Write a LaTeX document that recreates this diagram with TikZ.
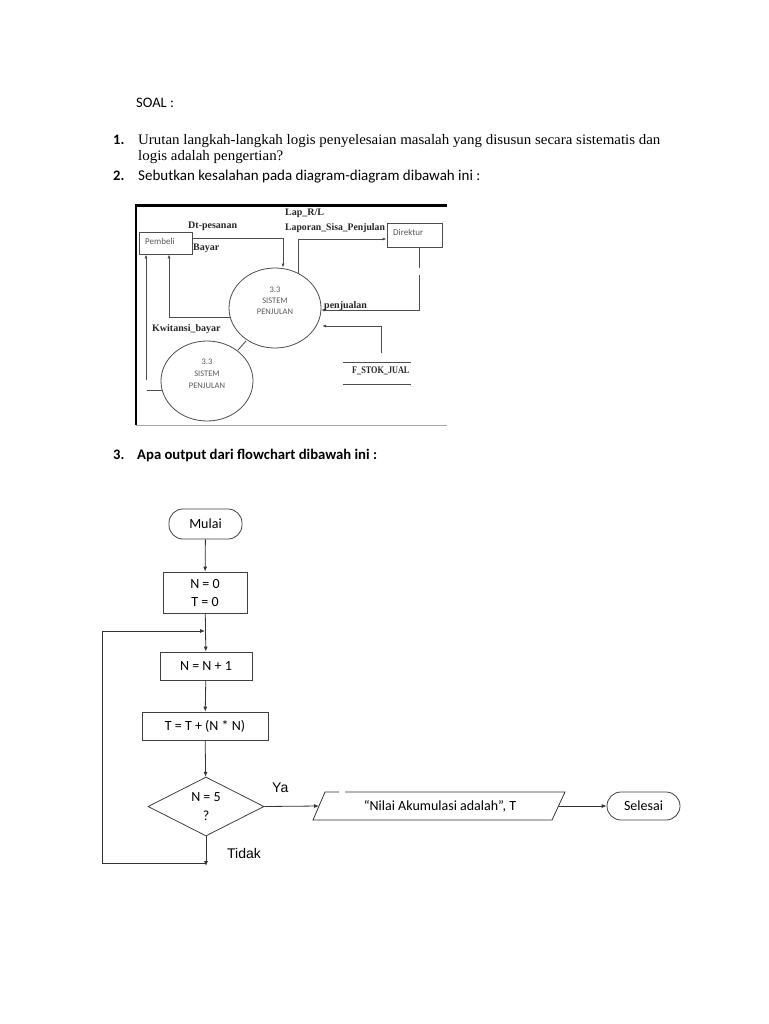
\documentclass[tikz,border=0pt]{standalone}
\usepackage{fontspec}
\setmainfont{Carlito}
\newfontfamily\serifq{Liberation Serif}
\newfontfamily\arialf{Liberation Sans}
\usetikzlibrary{shapes.geometric,arrows.meta,calc}
\begin{document}
\begin{tikzpicture}[x=1pt,y=-1pt,
  txt/.style={anchor=base west,inner sep=0pt,font=\fontsize{15}{18}\selectfont},
  numb/.style={anchor=base west,inner sep=0pt,font=\bfseries\fontsize{14.5}{17}\selectfont},
  sq/.style={anchor=base west,inner sep=0pt,font=\serifq\fontsize{14.5}{17}\selectfont},
  dfdlbl/.style={anchor=base west,inner sep=0pt,font=\serifq\bfseries\fontsize{10}{12}\selectfont,text=black!85},
  dfdline/.style={draw=black!70,line width=0.8pt},
  dfdarr/.style={dfdline,-{Latex[length=4pt,width=3pt]}},
  dfdnode/.style={font=\fontsize{9}{10}\selectfont,text=black!65,align=center,inner sep=0pt},
  fcbox/.style={draw=black!75,line width=0.8pt,fill=white,font=\fontsize{14}{17}\selectfont,align=center,inner sep=0pt},
  fcline/.style={draw=black!80,line width=0.8pt},
  fcarr/.style={fcline,-{Latex[length=5pt,width=4pt]}},
  fclbl/.style={inner sep=0pt,font=\arialf\fontsize{14}{17}\selectfont}
]
\useasboundingbox (0,0) rectangle (768,1024);
\fill[white] (0,0) rectangle (768,1024);

% ---------- header text ----------
\node[txt,font=\fontsize{14.5}{17}\selectfont] (soal) at (136,108) {SOAL :};
\node[numb] (n1) at (113,145) {1.};
\node[sq] (q1a) at (138,145) {\scalebox{1.03}[1]{Urutan langkah-langkah logis penyelesaian masalah yang disusun secara sistematis dan}};
\node[sq] (q1b) at (138,161) {\scalebox{1.03}[1]{logis adalah pengertian?}};
\node[numb] (n2) at (113,181) {2.};
\node[txt] (q2) at (138,181) {Sebutkan kesalahan pada diagram-diagram dibawah ini :};
\node[numb] (n3) at (113,459) {3.};
\node[txt,font=\bfseries\fontsize{14.7}{17}\selectfont] (q3) at (137,459) {Apa output dari flowchart dibawah ini :};

% ---------- DFD picture ----------
\draw[black,line width=2.2pt] (135,205.5) -- (447,205.5);
\draw[black,line width=1.2pt] (136,205) -- (136,425);
\draw[black!35,line width=0.8pt] (136,425) -- (447,425);

\node[draw=black!70,line width=0.8pt,minimum width=53pt,minimum height=22pt,inner sep=0pt] (pembeli) at (165.5,243) {};
\node[dfdnode,anchor=west] (pembelit) at (145,241) {Pembeli};
\node[draw=black!70,line width=0.8pt,minimum width=55pt,minimum height=24pt,inner sep=0pt] (direktur) at (414.5,235) {};
\node[dfdnode,anchor=west] (direkturt) at (393,232) {Direktur};

\node[draw=black!70,line width=0.8pt,ellipse,minimum width=92pt,minimum height=80pt,inner sep=0pt] (sys1) at (275,308) {};
\node[dfdnode,font=\fontsize{8.5}{10}\selectfont] (sys1t) at (275,301) {3.3\\[1pt]SISTEM\\[1pt]PENJULAN};
\node[draw=black!70,line width=0.8pt,ellipse,minimum width=92pt,minimum height=80pt,inner sep=0pt] (sys2) at (207,381) {};
\node[dfdnode,font=\fontsize{8.5}{10}\selectfont] (sys2t) at (207,374) {3.3\\[2pt]SISTEM\\[2pt]PENJULAN};

% F_STOK_JUAL store
\coordinate (st1a) at (343,362);
\coordinate (st1b) at (411,362);
\coordinate (st2a) at (343,384);
\coordinate (st2b) at (411,384);
\draw[dfdline] (st1a) -- (st1b);
\draw[dfdline] (st2a) -- (st2b);
\node[dfdlbl] (stok) at (352,373) {\scalebox{0.82}[1]{F\_STOK\_JUAL}};

% flows
\coordinate (dtA) at (283,238);
\draw[dfdarr] (pembeli.east |- dtA) -- (dtA) -- (sys1.north -| dtA);
\node[dfdlbl] (ldt) at (188,229) {Dt-pesanan};
\node[dfdlbl] (lbayar) at (193,250) {Bayar};

\coordinate (lapA) at (298,239);
\draw[dfdarr] (298,273) -- (lapA) -- (direktur.west |- lapA);
\node[dfdlbl] (llap1) at (285,216) {Lap\_R/L};
\node[dfdlbl] (llap2) at (285,231) {\scalebox{0.97}[1]{Laporan\_Sisa\_Penjulan}};

\coordinate (pjA) at (419,310);
\draw[dfdline] (direktur.south -| pjA) -- (419,268);
\draw[dfdarr] (419,275) -- (pjA) -- (321,310);
\node[dfdlbl] (lpj) at (324,308) {penjualan};

\coordinate (skA) at (381,326);
\draw[dfdarr] (381,353) -- (skA) -- (322,326);

\coordinate (kwA) at (169,317);
\draw[dfdarr] (230,317) -- (kwA) -- (pembeli.south -| kwA);
\node[dfdlbl] (lkw) at (152,331) {Kwitansi\_bayar};

\coordinate (lfA) at (146,380);
\draw[dfdarr] (lfA) -- (pembeli.south -| lfA);
\draw[dfdline] (147,390) -- (161.5,390);
\draw[dfdline] (238,350) -- (246,341);

% ---------- flowchart ----------
\node[fcbox,rounded corners=14pt,minimum width=73pt,minimum height=30pt] (mulai) at (205.5,524) {Mulai};
\node[fcbox,minimum width=84pt,minimum height=41pt] (init) at (205,592.5) {N = 0\\[1pt]T = 0};
\node[fcbox,minimum width=92pt,minimum height=28pt] (inc) at (206,666) {N = N + 1};
\node[fcbox,minimum width=126pt,minimum height=28pt] (sum) at (205,726) {T = T + (N * N)};
\node[fcbox,diamond,aspect=2,minimum width=116pt,minimum height=59pt] (dec) at (206,806.5) {};
\node[inner sep=0pt,font=\fontsize{14}{17}\selectfont,align=center] (dect) at (206,807) {N = 5\\[2pt]?};

% parallelogram (output)
\coordinate (pTL) at (325,792);
\coordinate (pTR) at (565,792);
\coordinate (pBR) at (552,820);
\coordinate (pBL) at (313,820);
\coordinate (pL) at (319,806);
\coordinate (pR) at (558.5,806);
\draw[fcline] (339,792) -- (pTL) -- (pBL) -- (pBR) -- (pTR) -- (345,792);
\node[inner sep=0pt,font=\fontsize{14}{17}\selectfont] (outt) at (440,806) {“Nilai Akumulasi adalah”, T};
\node[fcbox,rounded corners=14pt,minimum width=73pt,minimum height=28pt] (selesai) at (643.5,806) {Selesai};

\draw[fcarr] (mulai) -- (init);
\draw[fcarr] (init) -- (inc);
\draw[fcarr] (inc) -- (sum);
\draw[fcarr] (sum) -- (dec);
\draw[fcarr] (dec.east) -- (pL);
\draw[fcarr] (pR) -- (selesai.west);
\coordinate (bot) at (206,866);
\coordinate (loopB) at (102,863);
\coordinate (loopT) at (102,631);
\draw[fcarr] (dec.south) -- (bot);
\draw[fcarr] (206,863) -- (loopB) -- (loopT) -- (205,631);
\node[fclbl,anchor=base west] (ya) at (272,792) {Ya};
\node[fclbl,anchor=base west] (tidak) at (227,858) {Tidak};
\end{tikzpicture}
\end{document}
